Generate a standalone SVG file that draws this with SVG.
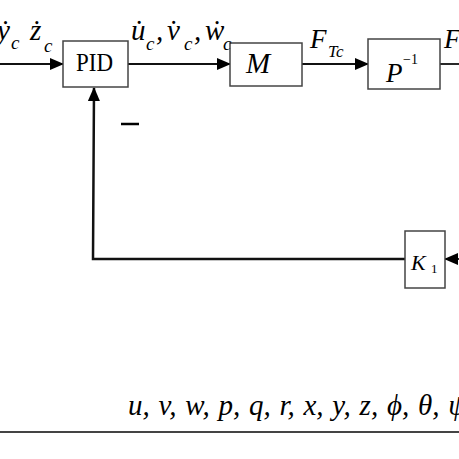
<svg xmlns="http://www.w3.org/2000/svg" width="459" height="459" viewBox="0 0 459 459">
<defs>
<marker id="ah" markerWidth="14" markerHeight="12" refX="13" refY="6" orient="auto" markerUnits="userSpaceOnUse">
<path d="M0,0 L14,6 L0,12 Z" fill="#000"/>
</marker>
<style>
.box{fill:#fff;stroke:#444;stroke-width:1.5}
.ln{stroke:#111;stroke-width:1.8;fill:none}
.fb{stroke:#111;stroke-width:2.5;fill:none}
.m{font-family:"Liberation Serif","Times New Roman",serif;font-style:italic;fill:#000}
.r{font-family:"Liberation Serif","Times New Roman",serif;fill:#000}
</style>
</defs>
<rect width="459" height="459" fill="#fff"/>
<g id="connectors">
<line class="ln" x1="0" y1="64" x2="63" y2="64" marker-end="url(#ah)"/>
<line class="ln" x1="128" y1="64" x2="230" y2="64" marker-end="url(#ah)"/>
<line class="ln" x1="302" y1="64" x2="368" y2="64" marker-end="url(#ah)"/>
<line class="ln" x1="440" y1="64" x2="459" y2="64"/>
<line class="ln" x1="462" y1="259" x2="445" y2="259" marker-end="url(#ah)"/>
<polyline class="fb" points="405,259 93,259 94,88" marker-end="url(#ah)"/>
<line x1="121" y1="124" x2="139" y2="124" stroke="#000" stroke-width="2.5"/>
</g>
<g id="PID">
<rect class="box" x="63" y="41" width="65" height="46"/>
<text class="r" x="76" y="71" font-size="26" textLength="37" lengthAdjust="spacingAndGlyphs" fill="#222">PID</text>
</g>
<g id="M">
<rect class="box" x="230" y="43" width="72" height="43"/>
<text class="m" x="246" y="73" font-size="29">M</text>
</g>
<g id="Pinv">
<rect class="box" x="368" y="39" width="72" height="50"/>
<text class="m" x="386" y="82" font-size="27">P</text>
<text class="r" x="403" y="64" font-size="14">−1</text>
</g>
<g id="K1">
<rect class="box" x="405" y="231" width="40" height="57"/>
<text class="m" x="411" y="270" font-size="22">K</text>
<text class="r" x="431" y="273" font-size="13">1</text>
</g>
<g id="labels">
<text class="m" x="-3" y="40" font-size="29">ẏ</text>
<text class="m" x="11" y="49" font-size="19">c</text>
<text class="m" x="30" y="40" font-size="29">ż</text>
<text class="m" x="44" y="52" font-size="19">c</text>
<text class="m" font-size="29" y="40"><tspan x="131">u̇</tspan><tspan x="146" y="50" font-size="19">c</tspan><tspan x="156" y="40">,</tspan><tspan x="167">v̇</tspan><tspan x="184" y="50" font-size="19">c</tspan><tspan x="194" y="40">,</tspan><tspan x="205">ẇ</tspan><tspan x="223" y="50" font-size="19">c</tspan></text>
<text class="m" x="310" y="48" font-size="27">F</text>
<text class="m" x="328" y="57" font-size="17">Tc</text>
<text class="m" x="444" y="48" font-size="27">F</text>
<text class="m" x="128" y="415" font-size="29" word-spacing="1.5">u, v, w, p, q, r, x, y, z, ϕ, θ, ψ</text>
</g>
<line x1="0" y1="432" x2="459" y2="432" stroke="#444" stroke-width="2"/>
</svg>
